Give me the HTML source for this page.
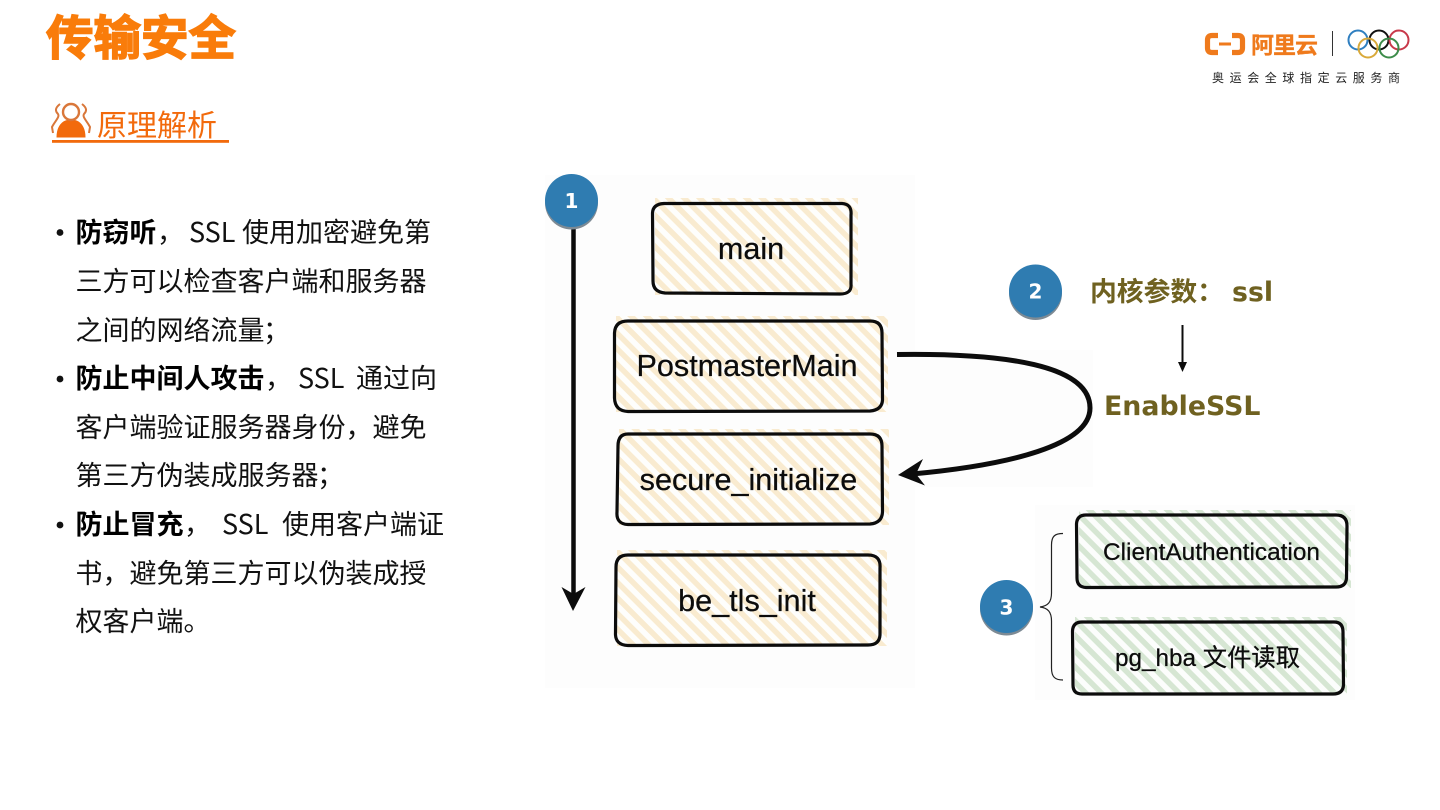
<!DOCTYPE html>
<html lang="zh"><head><meta charset="utf-8"><title>传输安全</title>
<style>
html,body{margin:0;padding:0;background:#fff;width:1440px;height:810px;overflow:hidden}
svg{display:block}
.cn{font-family:"Liberation Sans","Noto Sans CJK SC",sans-serif}
.t{font-family:"Noto Sans CJK SC",sans-serif;font-size:27px;fill:#111}
.t .b{font-weight:700;fill:#000}
.h{font-family:"Liberation Sans","Noto Sans CJK SC",sans-serif;font-size:30.6px;fill:#0c0c0c;text-anchor:middle;stroke:#0c0c0c;stroke-width:.25}
.n{font-family:"DejaVu Sans",sans-serif;font-weight:700;font-size:20px;fill:#fff;text-anchor:middle}
.k{font-family:"DejaVu Sans","Noto Sans CJK SC",sans-serif;font-weight:700;font-size:26.8px;fill:#6f6120}
.box{fill:none;stroke:#0c0c0c;stroke-width:3.2;stroke-linejoin:round}
</style></head><body>
<svg width="1440" height="810" viewBox="0 0 1440 810" xmlns="http://www.w3.org/2000/svg">
<defs>
<pattern id="y" width="11" height="11" patternUnits="userSpaceOnUse" patternTransform="rotate(-45)"><rect width="11" height="11" fill="#fefefc"/><rect width="5.500" height="11" fill="#f9ebd0"/></pattern>
<pattern id="g" width="11" height="11" patternUnits="userSpaceOnUse" patternTransform="rotate(-45)"><rect width="11" height="11" fill="#fcfdfc"/><rect width="5.500" height="11" fill="#d6e6d3"/></pattern>
</defs>
<rect width="1440" height="810" fill="#fff"/>
<rect x="545" y="175" width="370" height="513" fill="#fdfdfd"/>
<rect x="900" y="350" width="193" height="137" fill="#fdfdfd"/>
<rect x="1035" y="505" width="320" height="195" fill="#fdfdfd"/>

<!-- title -->
<text x="46" y="55" font-family="'WenQuanYi Zen Hei','Noto Sans CJK SC',sans-serif" font-size="47.500" font-weight="700" fill="#f97c0a" stroke="#f97c0a" stroke-width="1.500">传输安全</text>
<text x="97" y="136" class="cn" font-size="30" fill="#f26a0c">原理解析</text>
<rect x="52" y="140" width="177" height="2.800" fill="#f26a0c"/>
<path d="M56.500 137.500 C56.500 125 63 119.500 71 119.500 C79 119.500 85.500 125 85.500 137.500 Z" fill="#f26a0c"/>
<circle cx="71" cy="112" r="8" fill="none" stroke="#d9773a" stroke-width="2.400"/>
<path d="M60 104 C55 108 55 111 58 114 C60 117 55 121 52 127 L53 133 M82 104 C87 108 87 111 84 114 C82 117 87 121 90 127 L89 133" fill="none" stroke="#d9773a" stroke-width="2"/>

<!-- logo -->
<g fill="none" stroke="#ef7a1c" stroke-width="5.200">
<path d="M1218 35.500 H1212 Q1207.500 35.500 1207.500 40 V48 Q1207.500 52.500 1212 52.500 H1218"/>
<path d="M1232 35.500 H1238 Q1242.500 35.500 1242.500 40 V48 Q1242.500 52.500 1238 52.500 H1232"/>
</g>
<rect x="1219" y="42.500" width="12" height="3" fill="#ef7a1c"/>
<text x="1251" y="53" class="cn" font-size="23" font-weight="700" fill="#ef7a1c" textLength="67" stroke="#ef7a1c" stroke-width="0.300">阿里云</text>
<rect x="1332" y="31" width="1" height="25" fill="#333"/>
<g fill="none" stroke-width="2">
<circle cx="1358" cy="40" r="9.500" stroke="#2f7fc0"/>
<circle cx="1379" cy="40" r="9.500" stroke="#111"/>
<circle cx="1399" cy="40" r="9.500" stroke="#c8394a"/>
<circle cx="1368" cy="48" r="9.500" stroke="#d9a93a"/>
<circle cx="1389" cy="48" r="9.500" stroke="#3d8c4a"/>
</g>
<text x="1212" y="82" class="cn" font-size="12" letter-spacing="5.600" fill="#222">奥运会全球指定云服务商</text>

<!-- bullets text -->
<g fill="#111"><circle cx="60" cy="232.500" r="3.400"/><circle cx="60" cy="379" r="3.400"/><circle cx="60" cy="525" r="3.400"/></g>
<text class="t" y="242"><tspan x="75.500" class="b">防窃听</tspan><tspan x="157">，</tspan><tspan x="189">SSL</tspan><tspan x="242">使用加密避免第</tspan></text>
<text class="t" y="291" x="75.500">三方可以检查客户端和服务器</text>
<text class="t" y="340"><tspan x="75.500">之间的网络流量</tspan><tspan x="263">；</tspan></text>
<text class="t" y="388"><tspan x="75.500" class="b">防止中间人攻击</tspan><tspan x="265">，</tspan><tspan x="298">SSL</tspan><tspan x="356">通过向</tspan></text>
<text class="t" y="437" x="75.500">客户端验证服务器身份，避免</text>
<text class="t" y="485"><tspan x="75.500">第三方伪装成服务器</tspan><tspan x="317">；</tspan></text>
<text class="t" y="534"><tspan x="75.500" class="b">防止冒充</tspan><tspan x="184">，</tspan><tspan x="222">SSL</tspan><tspan x="282">使用客户端证</tspan></text>
<text class="t" y="583" x="75.500">书，避免第三方可以伪装成授</text>
<text class="t" y="631" x="75.500">权客户端。</text>

<!-- yellow boxes -->
<rect x="655" y="198" width="203" height="97" fill="url(#y)"/>
<path class="box" d="M664 203.500 H842 Q852 204 851 215 L851 284 Q852 294 840 294 L665 293 Q653 292 653 281 L652.500 213 Q653 204 664 203.500 Z"/>
<rect x="616" y="316" width="272" height="96" fill="url(#y)"/>
<path class="box" d="M628 321 H870 Q882 321 882 333 L882.500 400 Q882 410 870 411 L628 411.500 Q615 411 614.500 398 V333 Q615 321 628 321 Z"/>
<rect x="619" y="429" width="270" height="96" fill="url(#y)"/>
<path class="box" d="M628 434 H870 Q882 434 882 446 L882.500 512 Q882 523 870 524 L628 524.500 Q616 524 617 512 L618 446 Q618 434 628 434 Z"/>
<rect x="617" y="550" width="270" height="96" fill="url(#y)"/>
<path class="box" d="M628 555 H868 Q881 555 880 568 L880 634 Q880 645 868 645 L628 645.500 Q615 645 615.500 633 L616 567 Q616 555 628 555 Z"/>
<text class="h" x="751" y="259">main</text>
<text class="h" x="747" y="376">PostmasterMain</text>
<text class="h" x="748.500" y="490">secure_initialize</text>
<text class="h" x="747" y="611">be_tls_init</text>

<!-- green boxes -->
<rect x="1079" y="510" width="272" height="78" fill="url(#g)"/>
<path class="box" d="M1086 515 H1336 Q1347 515 1347 526 L1346.500 578 Q1346 587 1336 587 L1086 587.500 Q1077 587 1077 578 L1076.500 524 Q1077 515 1086 515 Z"/>
<rect x="1075" y="617" width="272" height="78" fill="url(#g)"/>
<path class="box" d="M1082 622 H1334 Q1343 622 1343 632 L1343.500 685 Q1343 694 1333 694 L1082 694 Q1073 694 1073 685 L1072.500 631 Q1073 622 1082 622 Z"/>
<text class="h" x="1211.500" y="560" style="font-size:24.400px">ClientAuthentication</text>
<text class="h" x="1207.500" y="666" style="font-size:24.300px">pg_hba 文件读取</text>

<!-- brace -->
<path d="M1063 533.500 C1055 533.500 1051.500 536 1051.500 545 V593 C1051.500 602 1048 606 1040 607 C1048 608 1051.500 612 1051.500 621 V668 C1051.500 677 1055 680 1063 680" fill="none" stroke="#222" stroke-width="1.200"/>

<!-- arrows -->
<path d="M573.500 226 V594" stroke="#0c0c0c" stroke-width="4.500" fill="none"/>
<path d="M573 611 L561.500 587 L573.500 594 L585.500 587 Z" fill="#0c0c0c"/>
<path d="M897 354.500 C1005 353 1090 365 1090 408 C1090 445 1010 465 912 474" fill="none" stroke="#0c0c0c" stroke-width="5"/>
<path d="M898 475 L923 459 L916 474 L925 485.500 Z" fill="#0c0c0c"/>
<path d="M1182.500 325 V364" stroke="#0c0c0c" stroke-width="2" fill="none"/>
<path d="M1182.500 372 L1178 362 H1187 Z" fill="#0c0c0c"/>

<!-- circles -->
<g>
<circle cx="571.500" cy="203" r="26.500" fill="#7d8a94"/><circle cx="571.500" cy="200.500" r="26.500" fill="#2f7cb1"/>
<circle cx="1035.500" cy="293.500" r="26.500" fill="#7d8a94"/><circle cx="1035.500" cy="291" r="26.500" fill="#2f7cb1"/>
<circle cx="1006.500" cy="609" r="26.500" fill="#7d8a94"/><circle cx="1006.500" cy="606.500" r="26.500" fill="#2f7cb1"/>
</g>
<text class="n" x="571.500" y="208">1</text>
<text class="n" x="1035.500" y="298.500">2</text>
<text class="n" x="1006.500" y="614.500">3</text>

<!-- labels -->
<text class="k" y="301"><tspan x="1090">内核参数：</tspan><tspan x="1232">ssl</tspan></text>
<text class="k" x="1104" y="415">EnableSSL</text>
</svg>
</body></html>
